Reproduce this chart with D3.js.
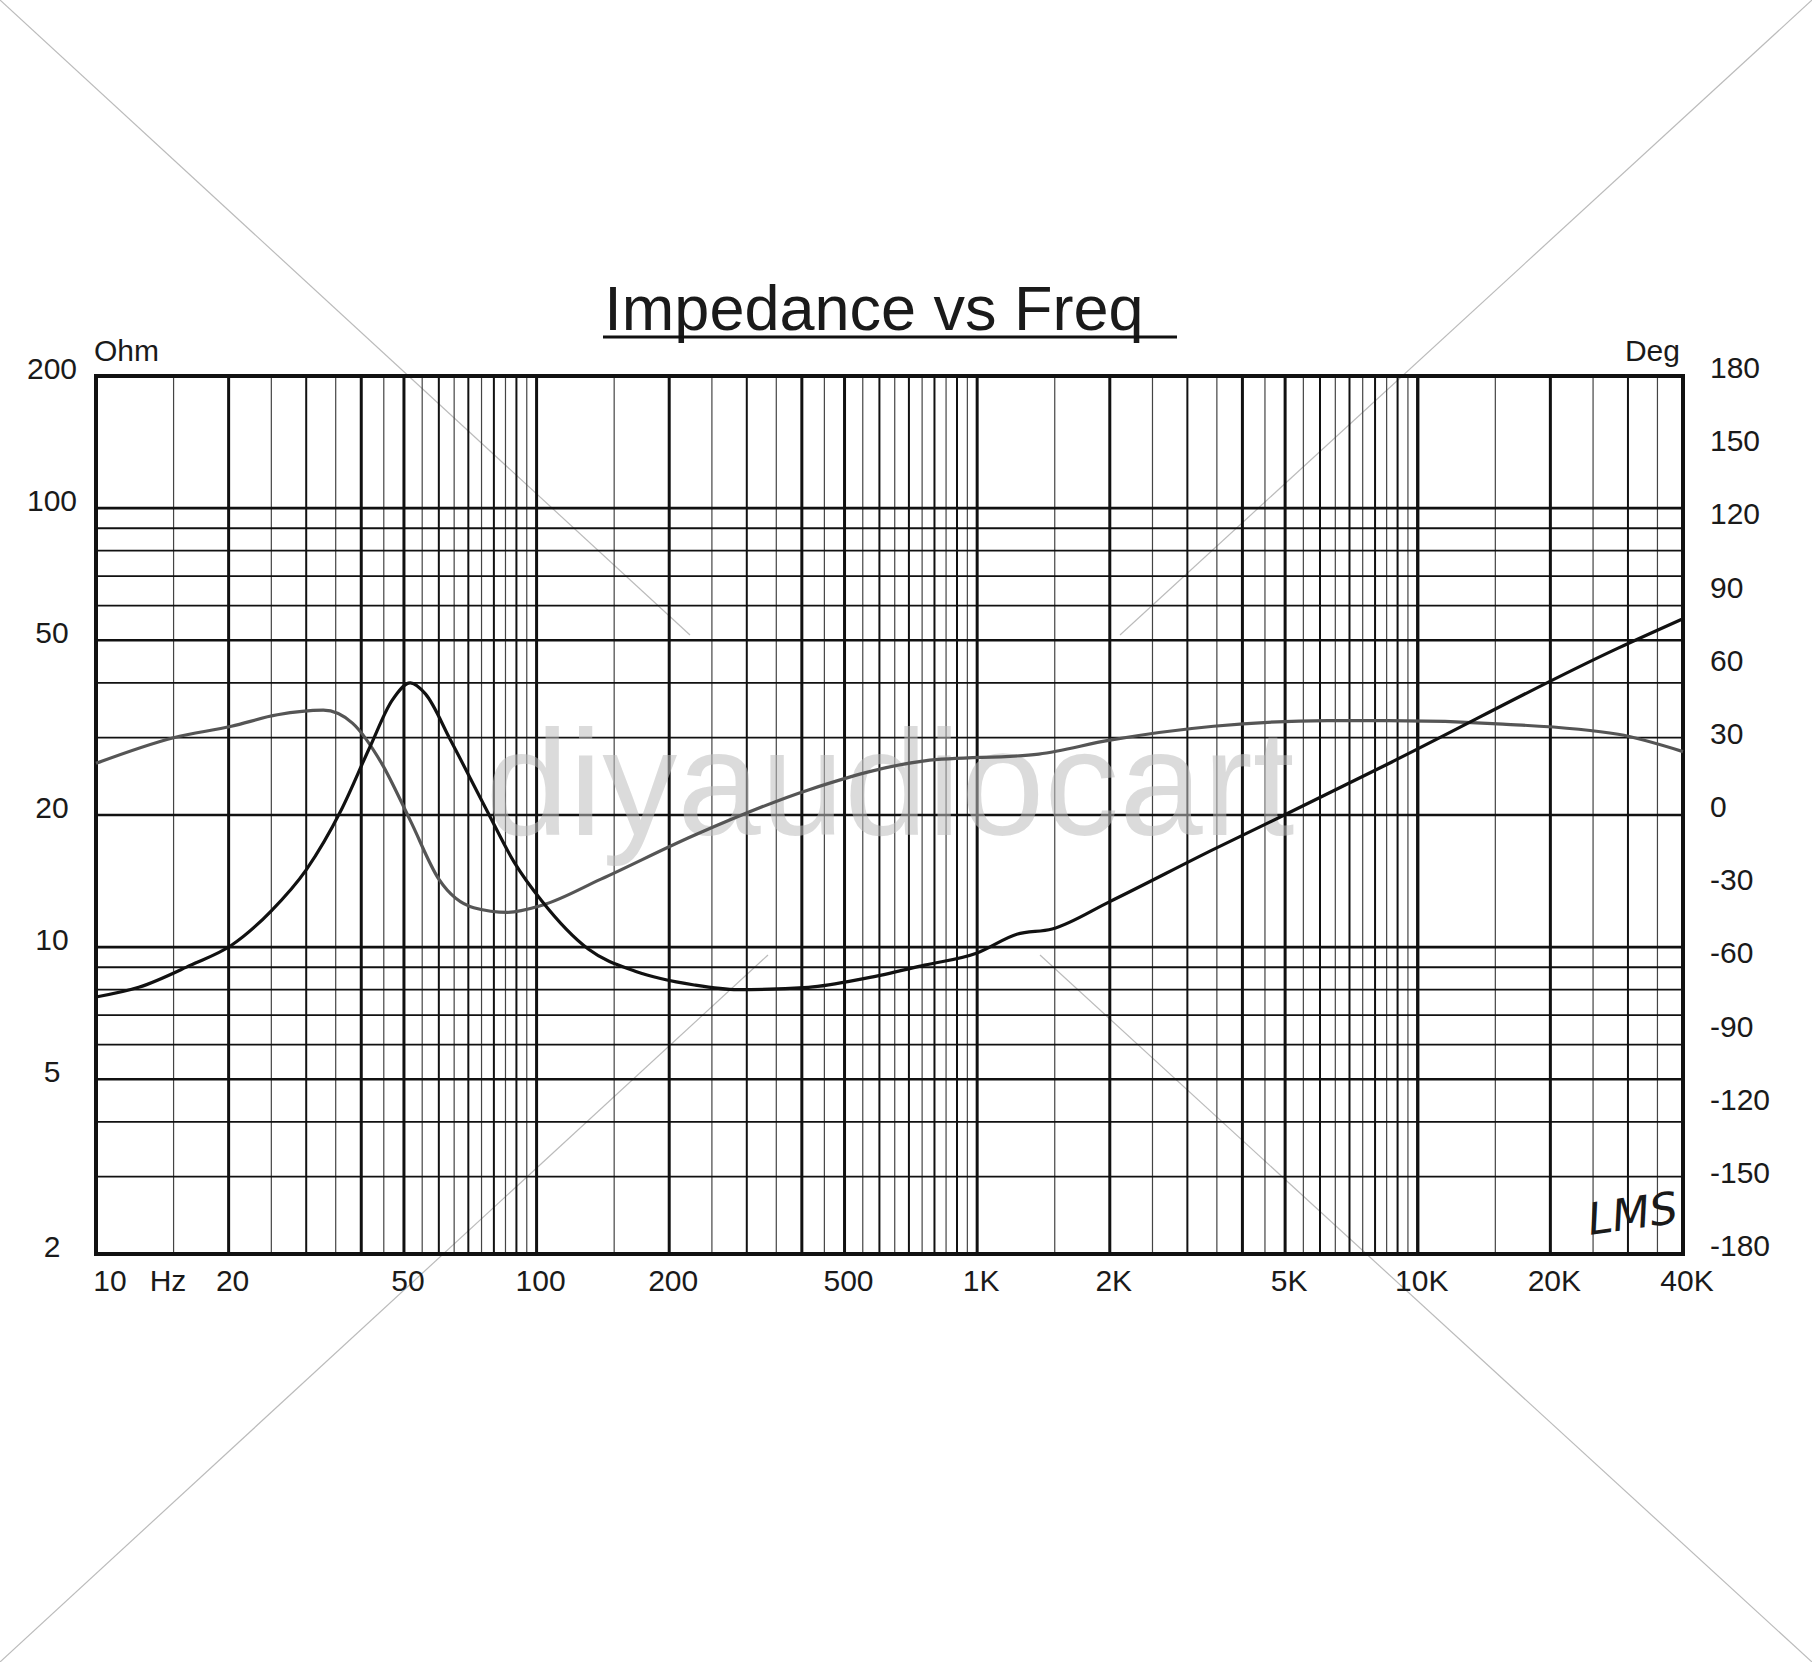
<!DOCTYPE html>
<html lang="en">
<head>
<meta charset="UTF-8">
<title>Impedance vs Freq</title>
<style>
  body { margin: 0; background: #fff; font-family: Arial, "Liberation Sans", sans-serif; }
  text { fill: #1a1a1a; }
</style>
</head>
<body>
<script src="https://d3js.org/d3.v7.min.js"></script>
<script>
// Impedance magnitude (Ohm) and phase (deg)
const impFreq = [10, 12.5, 16.4, 20.3, 25, 30, 36, 41.8, 47, 51.7, 56, 63.8, 76.7, 89, 103, 131, 168, 228, 286, 414, 560, 760, 1000, 1230, 1480, 2000, 3440, 4980, 8530, 28500, 40000];
const impOhm  = [7.7, 8.1, 9.1, 10.1, 12.1, 15.0, 20.5, 28.5, 36.5, 40.0, 37.7, 29.6, 20.7, 15.6, 12.7, 9.9, 8.8, 8.2, 8.0, 8.1, 8.5, 9.1, 9.7, 10.7, 11.0, 12.7, 16.7, 20.0, 26.1, 48, 56];
const phaseFreq = [10, 15, 20.3, 25.8, 32.8, 38.2, 44.5, 51.7, 60, 72, 86, 103, 140, 228, 414, 760, 1380, 2000, 3440, 6240, 8530, 15600, 28500, 40000];
const phaseDeg  = [17.5, 28, 32.7, 37.4, 39.3, 34, 17.5, -6, -30, -41.7, -43.6, -40.7, -30, -12, 6.6, 18.5, 21.3, 27, 32.7, 35, 35, 33.6, 29.4, 22.3];

const xTickVals = [10, 20, 50, 100, 200, 500, 1000, 2000, 5000, 10000, 20000, 40000];
const xTickText = ["10", "20", "50", "100", "200", "500", "1K", "2K", "5K", "10K", "20K", "40K"];
const ohmTicks = [200, 100, 50, 20, 10, 5, 2];
const ohmGrid = [100, 90, 80, 70, 60, 50, 40, 30, 20, 10, 9, 8, 7, 6, 5, 4, 3];
const degTicks = [180, 150, 120, 90, 60, 30, 0, -30, -60, -90, -120, -150, -180];

const W = 1812, H = 1662;
const L = 96, R = 1683, T = 376, B = 1254;

const x = d3.scaleLog().domain([10, 40000]).range([L, R]);
const y = d3.scaleLog().domain([2, 200]).range([B, T]);
const yd = d3.scaleLinear().domain([-180, 180]).range([B - 9, T - 9]);

const svg = d3.select("body").append("svg").attr("width", W).attr("height", H);

// watermark cross
const wm = svg.append("g").attr("stroke", "#bbb").attr("stroke-width", 1.2);
wm.append("line").attr("x1", 0).attr("y1", 0).attr("x2", 690).attr("y2", 635);
wm.append("line").attr("x1", W).attr("y1", 0).attr("x2", 1120).attr("y2", 635);
wm.append("line").attr("x1", 0).attr("y1", H).attr("x2", 768).attr("y2", 955);
wm.append("line").attr("x1", W).attr("y1", H).attr("x2", 1040).attr("y2", 955);

// vertical grid
const vLines = [];
[10, 100, 1000, 10000].forEach(dec => {
  for (let m = 1; m < 10; m += 0.5) {
    const f = dec * m;
    if (f > 10 && f < 40000) vLines.push({ f, m });
  }
});
vLines.push({ f: 10000, m: 1 });
const vw = m => (m === 1 || m === 5 || m === 2 || m === 4) ? 3 : (Number.isInteger(m) ? 2 : 1.2);
svg.append("g").selectAll("line").data(vLines).join("line")
  .attr("x1", d => x(d.f)).attr("x2", d => x(d.f))
  .attr("y1", T).attr("y2", B)
  .attr("stroke", d => Number.isInteger(d.m) ? "#111" : "#444")
  .attr("stroke-width", d => vw(d.m));

// horizontal grid
svg.append("g").selectAll("line").data(ohmGrid).join("line")
  .attr("x1", L).attr("x2", R)
  .attr("y1", d => y(d)).attr("y2", d => y(d))
  .attr("stroke", "#111")
  .attr("stroke-width", d => [100, 50, 20, 10, 5].includes(d) ? 2.6 : 1.8);

// watermark text
svg.append("text").attr("x", 890).attr("y", 835).attr("text-anchor", "middle")
  .attr("font-size", 150).attr("font-family", "Arial, sans-serif")
  .style("fill", "rgba(190,190,190,0.55)").text("diyaudiocart");

// frame
svg.append("rect").attr("x", L).attr("y", T).attr("width", R - L).attr("height", B - T)
  .attr("fill", "none").attr("stroke", "#111").attr("stroke-width", 4);

// curves
const lineImp = d3.line().x((d, i) => x(impFreq[i])).y(d => y(d)).curve(d3.curveMonotoneX);
const linePh = d3.line().x((d, i) => x(phaseFreq[i])).y(d => yd(d)).curve(d3.curveMonotoneX);
svg.append("path").attr("d", linePh(phaseDeg)).attr("fill", "none")
  .attr("stroke", "#555").attr("stroke-width", 3.2);
svg.append("path").attr("d", lineImp(impOhm)).attr("fill", "none")
  .attr("stroke", "#111").attr("stroke-width", 3.2);

// axes labels
const fs = 30;
svg.append("g").selectAll("text").data(ohmTicks).join("text")
  .attr("x", 52).attr("y", d => y(d) + 3).attr("text-anchor", "middle")
  .attr("font-size", fs).text(d => d);
svg.append("g").selectAll("text").data(degTicks).join("text")
  .attr("x", 1710).attr("y", d => yd(d) + 11)
  .attr("font-size", fs).text(d => d);
svg.append("g").selectAll("text").data(xTickVals).join("text")
  .attr("x", (d, i) => i === 0 ? x(d) + 14 : x(d) + 4).attr("y", 1291).attr("text-anchor", "middle")
  .attr("font-size", fs).text((d, i) => xTickText[i]);
svg.append("text").attr("x", 168).attr("y", 1291).attr("text-anchor", "middle")
  .attr("font-size", fs).text("Hz");
svg.append("text").attr("x", 94).attr("y", 361).attr("font-size", fs).text("Ohm");
svg.append("text").attr("x", 1680).attr("y", 361).attr("text-anchor", "end").attr("font-size", fs).text("Deg");

// title
svg.append("text").attr("x", 874).attr("y", 330).attr("text-anchor", "middle")
  .attr("font-size", 63).text("Impedance vs Freq");
svg.append("line").attr("x1", 603).attr("x2", 1177).attr("y1", 337).attr("y2", 337)
  .attr("stroke", "#111").attr("stroke-width", 3);

// LMS mark
svg.append("text").attr("x", 1590).attr("y", 1235).attr("font-size", 44)
  .attr("font-style", "italic").attr("font-family", "DejaVu Sans, sans-serif")
  .attr("transform", "rotate(-8,1590,1235)").text("LMS");
</script>
</body>
</html>
